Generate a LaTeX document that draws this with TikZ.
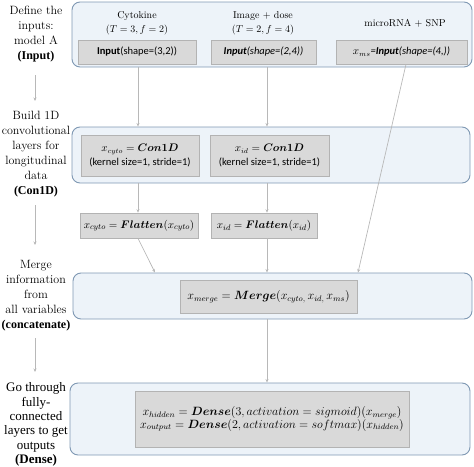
\documentclass[tikz,border=0pt]{standalone}
\usepackage{amsmath,bm}
\usepackage{fontspec}
\newfontfamily\carl{Carlito}
\newfontfamily\libser{Liberation Serif}
\usetikzlibrary{arrows.meta}
\definecolor{outerfill}{HTML}{EDF3F9}
\definecolor{outerdraw}{HTML}{7F98B3}
\definecolor{grayfill}{HTML}{D9D9D9}
\definecolor{graydraw}{HTML}{B3B3B3}
\definecolor{linegray}{HTML}{B8B8B8}
\begin{document}
\begin{tikzpicture}[x=1pt,y=-1pt,
  outer/.style={draw=outerdraw, fill=outerfill, rounded corners=8pt, line width=0.9pt, inner sep=0pt},
  graybox/.style={draw=graydraw, fill=grayfill, line width=0.6pt, inner sep=0pt, align=center},
  sidelabel/.style={align=center, inner sep=0pt, font=\fontsize{12}{15}\selectfont},
  denselabel/.style={align=center, inner sep=0pt, font=\libser\fontsize{13}{14.4}\selectfont},
  toplabel/.style={inner sep=0pt, font=\fontsize{10}{12}\selectfont},
  sanstext/.style={font=\carl\fontsize{10.5}{13}\selectfont},
  mathtext/.style={font=\fontsize{10.5}{14}\selectfont},
  conn/.style={draw=linegray, line width=0.7pt, -{Stealth[length=3.5pt,width=3pt]}},
  plainline/.style={draw=linegray, line width=0.7pt}]
\useasboundingbox (0,0) rectangle (474,466);

% outer panels
\node[outer, minimum width=400pt, minimum height=65pt] (B1) at (272,34.5) {};
\node[outer, minimum width=398pt, minimum height=56pt] (B2) at (271,155) {};
\node[outer, minimum width=399pt, minimum height=46pt] (B3) at (272.5,296) {};
\node[outer, minimum width=400pt, minimum height=72pt] (B4) at (270,419) {};

% top labels
\node[toplabel] (t1a) at (137,16) {Cytokine};
\node[toplabel] (t1b) at (137,30) {$(T = 3, f = 2)$};
\node[toplabel] (t2a) at (263,16) {Image + dose};
\node[toplabel] (t2b) at (263,30) {$(T = 2, f = 4)$};
\node[toplabel] (t3a) at (405,23) {microRNA + SNP};

% input boxes
\node[graybox, sanstext, minimum width=118pt, minimum height=24pt] (I1) at (137,52) {\textbf{Input}(shape=(3,2))};
\node[graybox, sanstext, minimum width=105pt, minimum height=24pt] (I2) at (263.5,52) {\itshape\textbf{Input}(shape=(2,4))};
\node[graybox, sanstext, minimum width=131pt, minimum height=24pt] (I3) at (401.5,52) {\itshape $x_{ms}$=\textbf{Input}(shape=(4,))};

% Con1D boxes
\node[graybox, mathtext, minimum width=118pt, minimum height=41pt] (C1) at (140,155.5) {$x_{cyto} = \bm{Con1D}$\\{\carl (kernel size=1, stride=1)}};
\node[graybox, mathtext, minimum width=119pt, minimum height=41pt] (C2) at (269.5,155.5) {$x_{id} = \bm{Con1D}$\\{\carl (kernel size=1, stride=1)}};

% Flatten boxes
\node[graybox, font=\fontsize{11}{14}\selectfont, minimum width=118pt, minimum height=25pt] (F1) at (139,225.5) {$x_{cyto} = \bm{Flatten}(x_{cyto})$};
\node[graybox, font=\fontsize{11}{14}\selectfont, minimum width=106pt, minimum height=25pt] (F2) at (264,225.5) {$x_{id} = \bm{Flatten}(x_{id})$};

% Merge box
\node[graybox, font=\fontsize{11.5}{14}\selectfont, minimum width=177pt, minimum height=33pt] (M) at (268.5,296.5) {$x_{merge} = \bm{Merge}(x_{cyto,}\, x_{id,}\, x_{ms})$};

% Dense box
\node[graybox, font=\fontsize{11.6}{14}\selectfont, minimum width=274pt, minimum height=56pt] (D) at (272,419) {$x_{hidden} = \bm{Dense}(3, activation = sigmoid)(x_{merge})$\\[-1.5pt]$x_{output} = \bm{Dense}(2, activation = softmax)(x_{hidden})$};

% side labels
\node[sidelabel] (L1) at (36,34) {Define the\\inputs:\\model A\\{\libser\bfseries(Input)}};
\node[sidelabel] (L2) at (36,154) {Build 1D\\convolutional\\layers for\\longitudinal\\data\\{\libser\bfseries(Con1D)}};
\node[sidelabel] (L3) at (36,296) {Merge\\information\\from\\all variables\\{\libser\bfseries(concatenate)}};
\node[denselabel] (L4) at (36,424.5) {Go through\\fully-\\connected\\layers to get\\outputs\\\textbf{(Dense)}};

% column coordinates
\coordinate (colA) at (138,0);
\coordinate (colB) at (267,0);
\coordinate (mA) at (155,0);
\coordinate (msA) at (406,0);
\coordinate (msB) at (358,0);

% connectors
\draw[conn] (B1.south -| colA) -- (B2.north -| colA);
\draw[conn] (B1.south -| colB) -- (B2.north -| colB);
\draw[conn] (B2.south -| colA) -- (F1.north -| colA);
\draw[conn] (B2.south -| colB) -- (F2.north -| colB);
\draw[conn] (F1.south -| colA) -- (B3.north -| mA);
\draw[conn] (F2.south -| colB) -- (B3.north -| colB);
\draw[conn] (I3.south -| msA) -- (B3.north -| msB);
\draw[conn] (B3.south -| colB) -- (B4.north -| colB);

% side arrows
\coordinate (s1a) at (35,75);
\coordinate (s1b) at (35,101);
\coordinate (s2a) at (35,205);
\coordinate (s2b) at (35,245);
\coordinate (s3a) at (35,338);
\coordinate (s3b) at (35,372);
\draw[conn] (s1a) -- (s1b);
\draw[conn] (s2a) -- (s2b);
\draw[conn] (s3a) -- (s3b);
\end{tikzpicture}
\end{document}
